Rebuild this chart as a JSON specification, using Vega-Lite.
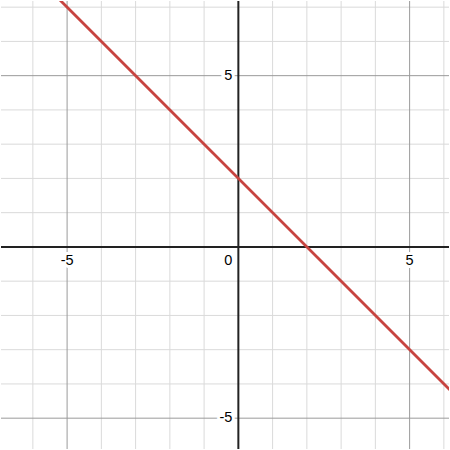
{
  "$schema": "https://vega.github.io/schema/vega-lite/v6.json",
  "description": "Graph of y = 2 - x on a Desmos-style grid.",
  "width": 450,
  "height": 450,
  "autosize": {"type": "fit", "contains": "padding"},
  "padding": 0,
  "background": "white",
  "config": {"view": {"stroke": null}},
  "datasets": {
    "vlines": [
      {"x": -6, "kind": "minor"}, {"x": -5, "kind": "major"}, {"x": -4, "kind": "minor"},
      {"x": -3, "kind": "minor"}, {"x": -2, "kind": "minor"}, {"x": -1, "kind": "minor"},
      {"x": 0, "kind": "axis"}, {"x": 1, "kind": "minor"}, {"x": 2, "kind": "minor"},
      {"x": 3, "kind": "minor"}, {"x": 4, "kind": "minor"}, {"x": 5, "kind": "major"},
      {"x": 6, "kind": "minor"}
    ],
    "hlines": [
      {"y": -5, "kind": "major"}, {"y": -4, "kind": "minor"}, {"y": -3, "kind": "minor"},
      {"y": -2, "kind": "minor"}, {"y": -1, "kind": "minor"}, {"y": 0, "kind": "axis"},
      {"y": 1, "kind": "minor"}, {"y": 2, "kind": "minor"}, {"y": 3, "kind": "minor"},
      {"y": 4, "kind": "minor"}, {"y": 5, "kind": "major"}, {"y": 6, "kind": "minor"},
      {"y": 7, "kind": "minor"}
    ],
    "curve": [
      {"x": -7, "y": 9},
      {"x": 7, "y": -5}
    ],
    "labels": [
      {"x": -5, "y": 0, "label": "-5", "pos": "x"},
      {"x": 5, "y": 0, "label": "5", "pos": "x"},
      {"x": 0, "y": 0, "label": "0", "pos": "origin"},
      {"x": 0, "y": 5, "label": "5", "pos": "y"},
      {"x": 0, "y": -5, "label": "-5", "pos": "y"}
    ]
  },
  "resolve": {"scale": {"x": "shared", "y": "shared"}},
  "layer": [
    {
      "data": {"name": "vlines"},
      "transform": [{"filter": "datum.kind === 'minor'"}],
      "mark": {"type": "rule", "color": "#dadada", "strokeWidth": 1},
      "encoding": {
        "x": {"field": "x", "type": "quantitative", "axis": null,
              "scale": {"domain": [-6.93, 6.15], "nice": false, "zero": false}}
      }
    },
    {
      "data": {"name": "hlines"},
      "transform": [{"filter": "datum.kind === 'minor'"}],
      "mark": {"type": "rule", "color": "#dadada", "strokeWidth": 1},
      "encoding": {
        "y": {"field": "y", "type": "quantitative", "axis": null,
              "scale": {"domain": [-5.9, 7.18], "nice": false, "zero": false}}
      }
    },
    {
      "data": {"name": "vlines"},
      "transform": [{"filter": "datum.kind === 'major'"}],
      "mark": {"type": "rule", "color": "#9a9a9a", "strokeWidth": 1},
      "encoding": {"x": {"field": "x", "type": "quantitative", "axis": null}}
    },
    {
      "data": {"name": "hlines"},
      "transform": [{"filter": "datum.kind === 'major'"}],
      "mark": {"type": "rule", "color": "#9a9a9a", "strokeWidth": 1},
      "encoding": {"y": {"field": "y", "type": "quantitative", "axis": null}}
    },
    {
      "data": {"name": "vlines"},
      "transform": [{"filter": "datum.kind === 'axis'"}],
      "mark": {"type": "rule", "color": "#222222", "strokeWidth": 2},
      "encoding": {"x": {"field": "x", "type": "quantitative", "axis": null}}
    },
    {
      "data": {"name": "hlines"},
      "transform": [{"filter": "datum.kind === 'axis'"}],
      "mark": {"type": "rule", "color": "#222222", "strokeWidth": 2},
      "encoding": {"y": {"field": "y", "type": "quantitative", "axis": null}}
    },
    {
      "data": {"name": "curve"},
      "mark": {"type": "line", "color": "#c74440", "strokeWidth": 2.8, "clip": true},
      "encoding": {
        "x": {"field": "x", "type": "quantitative", "axis": null},
        "y": {"field": "y", "type": "quantitative", "axis": null}
      }
    },
    {
      "data": {"name": "labels"},
      "transform": [{"filter": "datum.pos === 'x'"}],
      "layer": [
        {"mark": {"type": "text", "font": "Liberation Sans", "fontSize": 14.5, "align": "center", "baseline": "middle", "dy": 14, "color": "white", "stroke": "white", "strokeWidth": 6}},
        {"mark": {"type": "text", "font": "Liberation Sans", "fontSize": 14.5, "align": "center", "baseline": "middle", "dy": 14, "color": "#000000"}}
      ],
      "encoding": {
        "x": {"field": "x", "type": "quantitative", "axis": null},
        "y": {"field": "y", "type": "quantitative", "axis": null},
        "text": {"field": "label"}
      }
    },
    {
      "data": {"name": "labels"},
      "transform": [{"filter": "datum.pos === 'origin'"}],
      "layer": [
        {"mark": {"type": "text", "font": "Liberation Sans", "fontSize": 14.5, "align": "center", "baseline": "middle", "dx": -10, "dy": 14, "color": "white", "stroke": "white", "strokeWidth": 6}},
        {"mark": {"type": "text", "font": "Liberation Sans", "fontSize": 14.5, "align": "center", "baseline": "middle", "dx": -10, "dy": 14, "color": "#000000"}}
      ],
      "encoding": {
        "x": {"field": "x", "type": "quantitative", "axis": null},
        "y": {"field": "y", "type": "quantitative", "axis": null},
        "text": {"field": "label"}
      }
    },
    {
      "data": {"name": "labels"},
      "transform": [{"filter": "datum.pos === 'y'"}],
      "layer": [
        {"mark": {"type": "text", "font": "Liberation Sans", "fontSize": 14.5, "align": "right", "baseline": "middle", "dx": -6, "color": "white", "stroke": "white", "strokeWidth": 6}},
        {"mark": {"type": "text", "font": "Liberation Sans", "fontSize": 14.5, "align": "right", "baseline": "middle", "dx": -6, "color": "#000000"}}
      ],
      "encoding": {
        "x": {"field": "x", "type": "quantitative", "axis": null},
        "y": {"field": "y", "type": "quantitative", "axis": null},
        "text": {"field": "label"}
      }
    }
  ]
}
